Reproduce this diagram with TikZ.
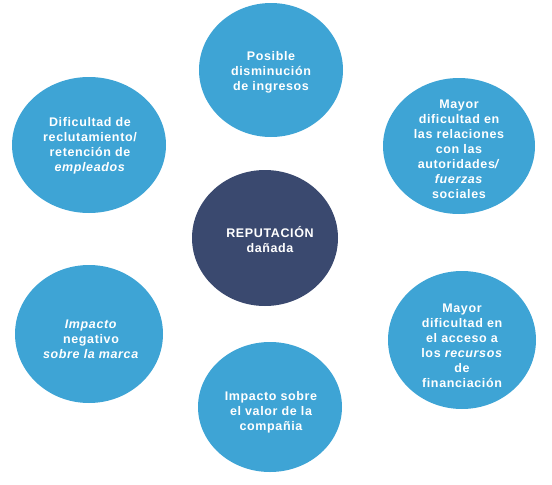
\documentclass[tikz,border=0pt]{standalone}
\usepackage{fontspec}
\setmainfont{Liberation Sans}
\newfontfamily\burbuja{Liberation Sans}[LetterSpace=5]
\definecolor{azul}{RGB}{62,164,213}
\definecolor{marino}{RGB}{58,73,111}
\begin{document}
\begin{tikzpicture}[x=1pt,y=-1pt,
  texto/.style={text=white,align=center,inner sep=0pt,font=\burbuja\bfseries\fontsize{12.5}{15}\selectfont}]
\useasboundingbox (0,0) rectangle (552,485);
\fill[azul] (271,70) ellipse (72 and 67);
\node[texto] (ingresos) at (271,72) {Posible\\disminución\\de ingresos};
\fill[azul] (89,145) ellipse (77 and 68);
\node[texto] (empleados) at (90,146) {Dificultad de\\reclutamiento/\\retención de\\\textit{empleados}};
\fill[azul] (459,146) ellipse (76 and 68);
\node[texto] (autoridades) at (459,149) {Mayor\\dificultad en\\las relaciones\\con las\\autoridades\textit{/}\\\textit{fuerzas}\\sociales};
\fill[marino] (265,238) ellipse (73 and 68);
\node[texto] (reputacion) at (270,240) {REPUTACIÓN\\dañada};
\fill[azul] (89,334) ellipse (74 and 69);
\node[texto] (marca) at (91,339) {\textit{Impacto}\\negativo\\\textit{sobre la marca}};
\fill[azul] (462,340) ellipse (74 and 69);
\node[texto] (financiacion) at (462,346) {Mayor\\dificultad en\\el acceso a\\los \textit{recursos}\\de\\financiación};
\fill[azul] (270,407) ellipse (72 and 65);
\node[texto] (valor) at (271,412) {Impacto sobre\\el valor de la\\compañia};
\end{tikzpicture}
\end{document}
